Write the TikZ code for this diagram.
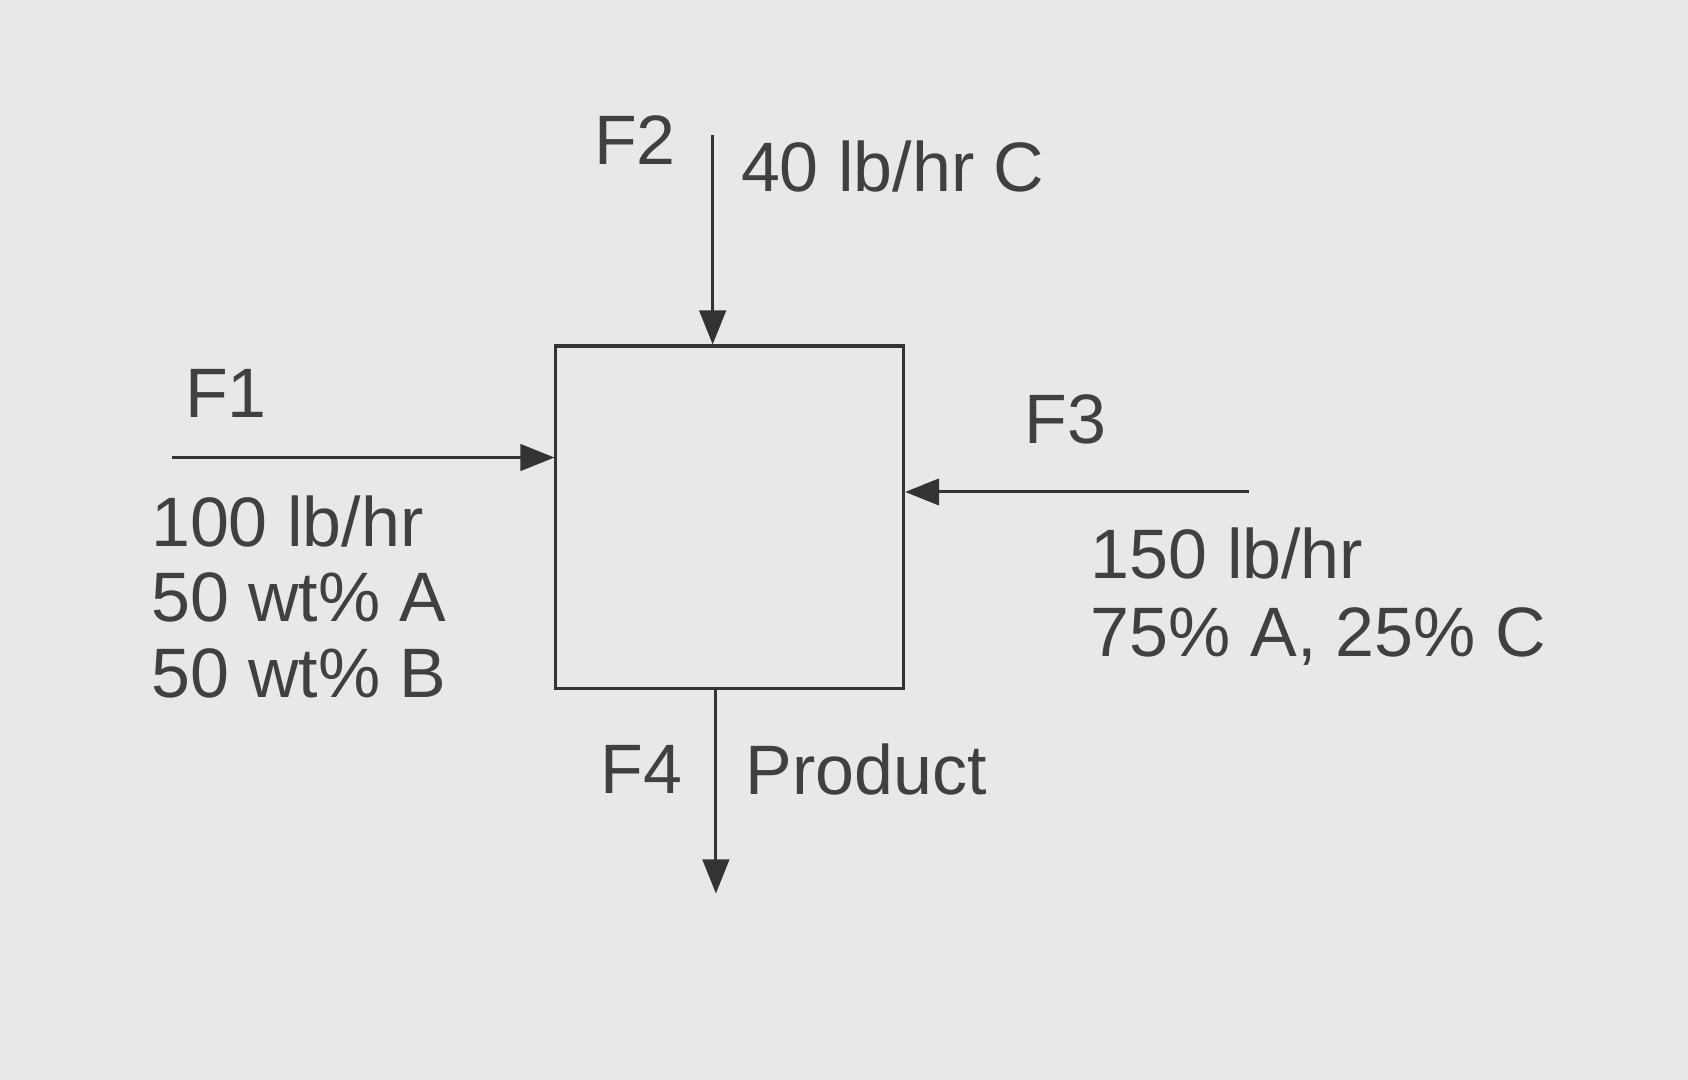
\documentclass[tikz,border=0pt]{standalone}
\usepackage{fontspec}
\setmainfont{Liberation Sans}
\usetikzlibrary{arrows.meta}
\begin{document}
\begin{tikzpicture}[x=0.02cm,y=-0.02cm,
  lbl/.style={font=\fontsize{37}{42}\selectfont,text=black!75,inner sep=0pt},
  flow/.style={draw=black!80,line width=1.6pt,-{Triangle[length=18pt,width=14pt]}}]
\fill[gray!18] (0,0) rectangle (1568,1003);
\useasboundingbox (0,0) rectangle (1568,1003);
\node[draw=black!80,line width=1.6pt,minimum width=323*0.02cm,minimum height=318*0.02cm,anchor=north west,inner sep=0pt] (box) at (515,320) {};
\coordinate (f2s) at (662,125);
\coordinate (f1s) at (160,425);
\coordinate (f3s) at (1160,457);
\coordinate (f4e) at (665,830);
\draw[flow] (f2s) -- (f2s |- box.north);
\draw[flow] (f1s) -- (f1s -| box.west);
\draw[flow] (f3s) -- (f3s -| box.east);
\draw[flow] (f4e |- box.south) -- (f4e);
\node[lbl,anchor=east] (t2) at (628,130) {F2};
\node[lbl,anchor=west] (t2b) at (688,155) {40 lb/hr C};
\node[lbl] (t1) at (210,365) {F1};
\node[lbl,anchor=north west,align=left,font=\fontsize{37}{40}\selectfont] (t1b) at (140,460) {100 lb/hr\\50 wt\% A\\50 wt\% B};
\node[lbl,anchor=north west,align=left,font=\fontsize{37}{41}\selectfont] (t3b) at (1013,490) {150 lb/hr\\75\% A, 25\% C};
\node[lbl] (t3) at (990,390) {F3};
\node[lbl] (t4) at (596,715) {F4};
\node[lbl,anchor=west] (t4b) at (692,715) {Product};
\end{tikzpicture}
\end{document}
